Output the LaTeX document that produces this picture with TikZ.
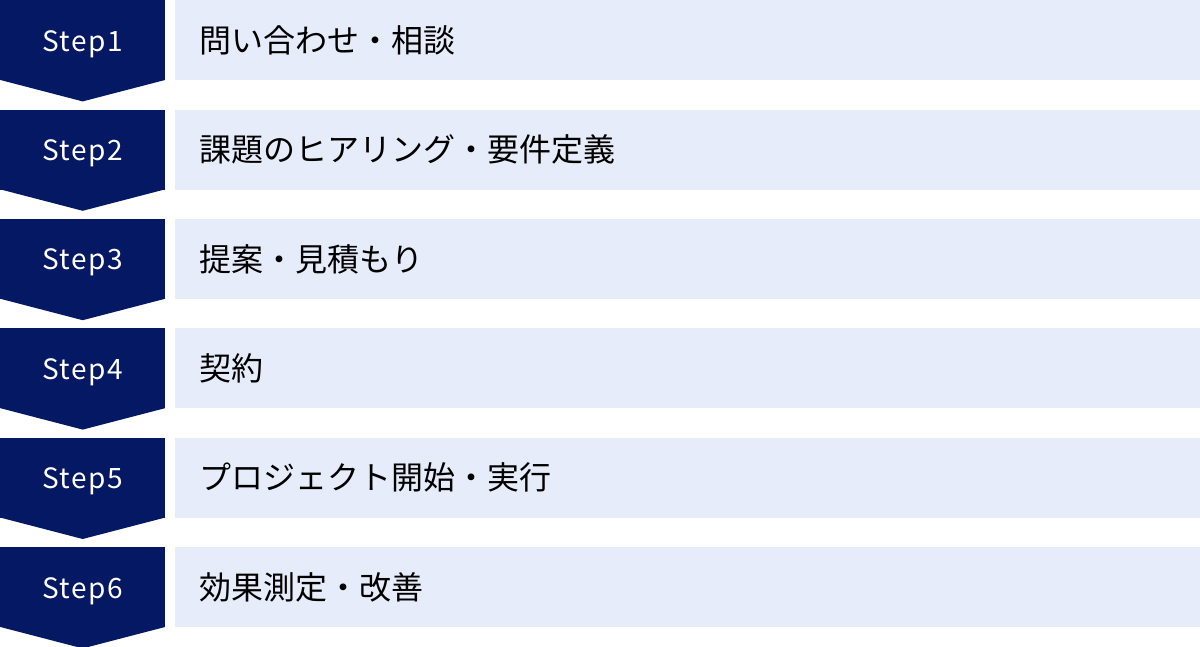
\documentclass[tikz,border=0pt]{standalone}
\usepackage{fontspec}
\newfontfamily\jpfont{Noto Sans CJK JP}
\newfontfamily\stepfont[LetterSpace=6]{Noto Sans CJK JP}
\usepackage{tikz}
\usetikzlibrary{positioning}
\usetikzlibrary{calc}

\definecolor{StepNavy}{RGB}{5,24,99}
\definecolor{TaskBlue}{RGB}{230,236,249}

\tikzset{
	stepbox/.style={fill=StepNavy, text=white, minimum width=165pt, minimum height=80pt,
		inner sep=0pt, text height=22pt, text depth=0pt, font=\stepfont\fontsize{28}{28}\selectfont},
	taskbox/.style={fill=TaskBlue, text=black, minimum height=80pt, text width=976pt,
		inner xsep=25pt, inner ysep=0pt, align=left, font=\jpfont\fontsize{32}{32}\selectfont},
	chevron/.style={fill=StepNavy},
}

\begin{document}
\begin{tikzpicture}

	% ------------------------------------------------
	% Ensure the dimensions of graphic are appropriate
	\useasboundingbox (0,0) rectangle (1200pt,-647pt);

	% ------------------------------------------------
	% Step labels
	\node[stepbox, anchor=north west] (Step1) at (0,0) {Step1};
	\node[stepbox, below=29pt of Step1] (Step2) {Step2};
	\node[stepbox, below=29pt of Step2] (Step3) {Step3};
	\node[stepbox, below=29pt of Step3] (Step4) {Step4};
	\node[stepbox, below=29pt of Step4] (Step5) {Step5};
	\node[stepbox, below=29pt of Step5] (Step6) {Step6};

	% ----------------
	% Arrow points
	\fill[chevron] ([yshift=0.5pt]Step1.south west) -- ([yshift=0.5pt]Step1.south east) -- ([yshift=-21pt]Step1.south) -- cycle;
	\fill[chevron] ([yshift=0.5pt]Step2.south west) -- ([yshift=0.5pt]Step2.south east) -- ([yshift=-21pt]Step2.south) -- cycle;
	\fill[chevron] ([yshift=0.5pt]Step3.south west) -- ([yshift=0.5pt]Step3.south east) -- ([yshift=-21pt]Step3.south) -- cycle;
	\fill[chevron] ([yshift=0.5pt]Step4.south west) -- ([yshift=0.5pt]Step4.south east) -- ([yshift=-21pt]Step4.south) -- cycle;
	\fill[chevron] ([yshift=0.5pt]Step5.south west) -- ([yshift=0.5pt]Step5.south east) -- ([yshift=-21pt]Step5.south) -- cycle;
	\fill[chevron] ([yshift=0.5pt]Step6.south west) -- ([yshift=0.5pt]Step6.south east) -- ([yshift=-21pt]Step6.south) -- cycle;

	% ------------------------------------------------
	% Tasks
	\node[taskbox, right=9pt of Step1] (Task1) {問い合わせ・相談};
	\node[taskbox, right=9pt of Step2] (Task2) {課題のヒアリング・要件定義};
	\node[taskbox, right=9pt of Step3] (Task3) {提案・見積もり};
	\node[taskbox, right=9pt of Step4] (Task4) {契約};
	\node[taskbox, right=9pt of Step5] (Task5) {プロジェクト開始・実行};
	\node[taskbox, right=9pt of Step6] (Task6) {効果測定・改善};

\end{tikzpicture}
\end{document}
